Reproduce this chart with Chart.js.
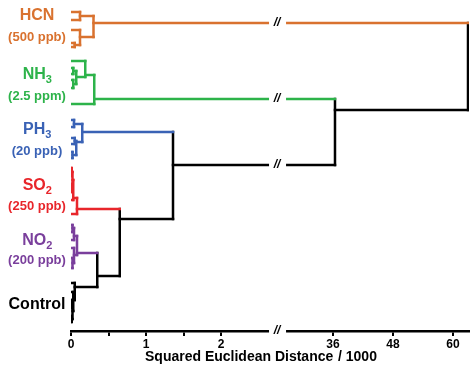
<!DOCTYPE html>
<html>
<head>
<meta charset="utf-8">
<script src="https://cdn.jsdelivr.net/npm/chart.js@4"></script>
<style>
  html, body { margin: 0; padding: 0; background: #fff; }
  #wrap { width: 474px; height: 370px; position: relative; }
</style>
</head>
<body>
<div id="wrap"><canvas id="dendro"></canvas></div>
<script>
// groups (top to bottom)
const groupNames = ['HCN', 'NH|3', 'PH|3', 'SO|2', 'NO|2', 'Control'];
const groupConc = ['(500 ppb)', '(2.5 ppm)', '(20 ppb)', '(250 ppb)', '(200 ppb)', ''];
const groupColors = ['#d9722f', '#2db34a', '#3a62b5', '#e8262b', '#7a3f9c', '#000000'];

// leaves: vertical slot and group
const leafY = [12, 20, 30, 38, 43, 47,
               61, 68, 74, 80, 88, 104,
               120, 127, 138, 144, 152, 158,
               168, 176, 184, 192, 200, 214,
               225, 232, 240, 248, 258, 268,
               283, 292, 300, 308, 316, 322];
const leafGroup = [0, 0, 0, 0, 0, 0, 1, 1, 1, 1, 1, 1, 2, 2, 2, 2, 2, 2,
                   3, 3, 3, 3, 3, 3, 4, 4, 4, 4, 4, 4, 5, 5, 5, 5, 5, 5];

// merges: child a, child b (index; leaves first, then merges from 36 on)
const mergeA = [0, 4, 2, 36,   7, 9, 40, 6, 43,   12, 16, 14, 47, 45,
                18, 20, 50, 52, 53,   24, 55, 28, 27, 56,   34, 32, 61, 31, 30,
                59, 54, 49, 44, 39];
const mergeB = [1, 5, 37, 38,  8, 10, 41, 42, 11,  13, 17, 15, 46, 48,
                19, 21, 51, 22, 23,   25, 26, 29, 57, 58,   35, 33, 60, 62, 63,
                64, 65, 66, 67, 68];
// squared euclidean distance / 1000
const mergeDist = [0.12, 0.05, 0.12, 0.30,  0.03, 0.03, 0.07, 0.19, 0.31,
                   0.04, 0.02, 0.05, 0.07, 0.15,  0.01, 0.01, 0.02, 0.03, 0.08,
                   0.02, 0.04, 0.02, 0.04, 0.08,  0.01, 0.01, 0.02, 0.03, 0.05,
                   0.35, 0.65, 1.36, 36.4, 63.0];
const mergeY = [16, 45, 37, 23,  71, 84, 77, 75, 99,  124, 155, 141, 142, 132,
                172, 188, 180, 198, 209,  228, 236, 263, 255, 253,  319, 304, 311, 300, 287,
                276, 219, 165, 110, 66];

const tickValues = [0, 0.5, 1, 1.5, 2, 36, 48, 60];
const tickLabels = ['0', '', '1', '', '2', '36', '48', '60'];
const axisMax = 63.2;
const axisTitle = ['Squared Euclidean Distance', '/ 1000'];

// broken axis: left part 0..~2.7, right part from ~27 on, squeezed 15x
function tx(v) {
  return v < 10 ? v : 3.493 + (v - 36) / 15;
}
const breakX = 2.747;

// node table
const nLeaf = leafY.length;
const nodeH = [], nodeY = [], nodeG = [];
leafY.forEach((y, i) => { nodeH.push(0); nodeY.push(y); nodeG.push(leafGroup[i]); });
mergeA.forEach((a, k) => {
  const b = mergeB[k];
  nodeH.push(mergeDist[k]);
  nodeY.push(mergeY[k]);
  nodeG.push(nodeG[a] === nodeG[b] ? nodeG[a] : 5);
});

const datasets = [];
function seg(pts, col) {
  datasets.push({
    data: pts, borderColor: col, borderWidth: 2.5, pointRadius: 0,
    fill: false, tension: 0, borderCapStyle: 'square', borderJoinStyle: 'miter'
  });
}
mergeA.forEach((a, k) => {
  const b = mergeB[k];
  const id = nLeaf + k;
  const h = tx(nodeH[id]);
  const col = groupColors[nodeG[id]];
  seg([{ x: tx(nodeH[a]), y: nodeY[a] }, { x: h, y: nodeY[a] }], groupColors[nodeG[a]]);
  seg([{ x: tx(nodeH[b]), y: nodeY[b] }, { x: h, y: nodeY[b] }], groupColors[nodeG[b]]);
  seg([{ x: h, y: nodeY[a] }, { x: h, y: nodeY[b] }], col);
});

const FONT = '"Liberation Sans", Arial, sans-serif';
const nameY = [16, 75, 130, 186, 241, 305];
const concY = [37, 96, 151, 206, 260, 0];

const decorations = {
  id: 'decorations',
  afterDraw(chart) {
    const ctx = chart.ctx;
    const xs = chart.scales.x, ys = chart.scales.y;
    const bx = xs.getPixelForValue(breakX);
    ctx.save();
    // gap in lines crossing the break
    ctx.fillStyle = '#fff';
    ctx.fillRect(bx - 8, 0, 17, ys.getPixelForValue(331) + 4);
    const ys2 = [];
    mergeA.forEach((a, k) => {
      [a, mergeB[k]].forEach(c => {
        if (nodeH[c] < 10 && mergeDist[k] > 10) ys2.push(nodeY[c]);
      });
    });
    ys2.push(331);
    ctx.fillStyle = '#000';
    ctx.font = 'italic bold 12px ' + FONT;
    ctx.textAlign = 'center';
    ctx.textBaseline = 'middle';
    ys2.forEach(y => ctx.fillText('//', bx, ys.getPixelForValue(y)));

    // group labels on the left
    const cx = 37;
    groupNames.forEach((name, i) => {
      ctx.fillStyle = groupColors[i];
      const parts = name.split('|');
      ctx.font = 'bold 16px ' + FONT;
      const w1 = ctx.measureText(parts[0]).width;
      ctx.font = 'bold 10px ' + FONT;
      const w2 = parts[1] ? ctx.measureText(parts[1]).width : 0;
      const x0 = cx - (w1 + w2) / 2;
      ctx.textAlign = 'left';
      ctx.textBaseline = 'middle';
      ctx.font = 'bold 16px ' + FONT;
      ctx.fillText(parts[0], x0, nameY[i]);
      if (parts[1]) {
        ctx.font = 'bold 11px ' + FONT;
        ctx.fillText(parts[1], x0 + w1, nameY[i] + 5);
      }
      if (groupConc[i]) {
        ctx.font = 'bold 13px ' + FONT;
        ctx.textAlign = 'center';
        ctx.fillText(groupConc[i], cx, concY[i]);
      }
    });

    // axis title
    ctx.fillStyle = '#000';
    ctx.font = 'bold 14px ' + FONT;
    ctx.textAlign = 'left';
    ctx.textBaseline = 'middle';
    ctx.fillText(axisTitle[0], 145, 357);
    ctx.fillText(axisTitle[1], 338, 357);
    ctx.restore();
  }
};

new Chart(document.getElementById('dendro'), {
  type: 'line',
  data: { datasets },
  options: {
    responsive: true,
    maintainAspectRatio: false,
    animation: false,
    events: [],
    layout: { padding: { left: 71, right: 5, top: 0, bottom: 0 } },
    plugins: { legend: { display: false }, tooltip: { enabled: false } },
    scales: {
      x: {
        type: 'linear',
        min: 0,
        max: tx(axisMax),
        afterBuildTicks(scale) {
          scale.ticks = tickValues.map(v => ({ value: tx(v) }));
        },
        afterFit(scale) { scale.height = 39; },
        border: { display: true, color: '#000', width: 2.5 },
        grid: { drawOnChartArea: false, drawTicks: true, tickLength: 5, color: '#000', lineWidth: 2 },
        ticks: {
          autoSkip: false,
          maxRotation: 0,
          padding: 1,
          color: '#000',
          font: { family: FONT, size: 12, weight: 'bold' },
          callback: (val, i) => tickLabels[i]
        }
      },
      y: {
        type: 'linear',
        reverse: true,
        min: 0,
        max: 331,
        display: false
      }
    }
  },
  plugins: [decorations]
});
</script>
</body>
</html>
